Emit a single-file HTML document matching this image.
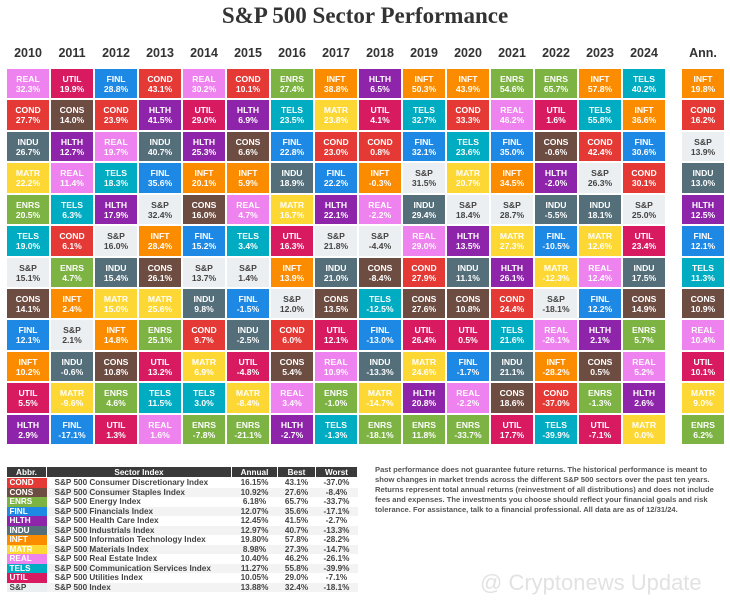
<!DOCTYPE html>
<html><head><meta charset="utf-8">
<style>
html,body{margin:0;padding:0;background:#fff;}
body{width:730px;height:608px;position:relative;overflow:hidden;font-family:"Liberation Sans",sans-serif;}
#title{position:absolute;left:0;width:730px;top:3px;text-align:center;font-family:"Liberation Serif",serif;font-weight:bold;font-size:23px;color:#333;}
.yr{position:absolute;top:46px;width:44px;text-align:center;font-weight:bold;font-size:12.5px;color:#333;}
.cell{position:absolute;box-sizing:border-box;border:0.5px solid #fff;color:#fff;font-weight:bold;font-size:8.6px;text-align:center;line-height:10px;padding-top:5px;}
.cell.sp{color:#444;}
table{position:absolute;left:6px;top:466px;border-collapse:collapse;font-size:8.2px;font-weight:bold;color:#444;}
th{background:#3a3a3a;color:#fff;height:10px;padding:0;border:1px solid #fff;font-size:8.2px;}
td{height:9.5px;padding:0;line-height:9.5px;}
tr:nth-child(even) td{background:#f3f3f3;}
#note{position:absolute;left:375px;top:465px;white-space:nowrap;font-size:7.6px;line-height:10px;color:#555;font-weight:bold;}
#wm{position:absolute;left:480px;top:570px;font-size:22px;color:#e2e2e2;}
</style></head><body>
<div id="title">S&amp;P 500 Sector Performance</div>
<div id="grid"></div>
<table>
<thead><tr><th style="width:39px">Abbr.</th><th style="width:184px">Sector Index</th><th style="width:45px">Annual</th><th style="width:37px">Best</th><th style="width:41px">Worst</th></tr></thead>
<tbody id="tb"></tbody></table>
<div id="note">Past performance does not guarantee future returns. The historical performance is meant to<br>show changes in market trends across the different S&amp;P 500 sectors over the past ten years.<br>Returns represent total annual returns (reinvestment of all distributions) and does not include<br>fees and expenses. The investments you choose should reflect your financial goals and risk<br>tolerance. For assistance, talk to a financial professional. All data are as of 12/31/24.</div>
<div id="wm">@ Cryptonews Update</div>
<script>
const years=["2010","2011","2012","2013","2014","2015","2016","2017","2018","2019","2020","2021","2022","2023","2024","Ann."];
const sec2010=["REAL","COND","INDU","MATR","ENRS","TELS","S&P","CONS","FINL","INFT","UTIL","HLTH"];
const val2010=[32.3,27.7,26.7,22.2,20.5,19.0,15.1,14.1,12.1,10.2,5.5,2.9];
const sec2011=["UTIL","CONS","HLTH","REAL","TELS","COND","ENRS","INFT","S&P","INDU","MATR","FINL"];
const val2011=[19.9,14.0,12.7,11.4,6.3,6.1,4.7,2.4,2.1,-0.6,-9.6,-17.1];
const sec2012=["FINL","COND","REAL","TELS","HLTH","S&P","INDU","MATR","INFT","CONS","ENRS","UTIL"];
const val2012=[28.8,23.9,19.7,18.3,17.9,16.0,15.4,15.0,14.8,10.8,4.6,1.3];
const sec2013=["COND","HLTH","INDU","FINL","S&P","INFT","CONS","MATR","ENRS","UTIL","TELS","REAL"];
const val2013=[43.1,41.5,40.7,35.6,32.4,28.4,26.1,25.6,25.1,13.2,11.5,1.6];
const sec2014=["REAL","UTIL","HLTH","INFT","CONS","FINL","S&P","INDU","COND","MATR","TELS","ENRS"];
const val2014=[30.2,29.0,25.3,20.1,16.0,15.2,13.7,9.8,9.7,6.9,3.0,-7.8];
const sec2015=["COND","HLTH","CONS","INFT","REAL","TELS","S&P","FINL","INDU","UTIL","MATR","ENRS"];
const val2015=[10.1,6.9,6.6,5.9,4.7,3.4,1.4,-1.5,-2.5,-4.8,-8.4,-21.1];
const sec2016=["ENRS","TELS","FINL","INDU","MATR","UTIL","INFT","S&P","COND","CONS","REAL","HLTH"];
const val2016=[27.4,23.5,22.8,18.9,16.7,16.3,13.9,12.0,6.0,5.4,3.4,-2.7];
const sec2017=["INFT","MATR","COND","FINL","HLTH","S&P","INDU","CONS","UTIL","REAL","ENRS","TELS"];
const val2017=[38.8,23.8,23.0,22.2,22.1,21.8,21.0,13.5,12.1,10.9,-1.0,-1.3];
const sec2018=["HLTH","UTIL","COND","INFT","REAL","S&P","CONS","TELS","FINL","INDU","MATR","ENRS"];
const val2018=[6.5,4.1,0.8,-0.3,-2.2,-4.4,-8.4,-12.5,-13.0,-13.3,-14.7,-18.1];
const sec2019=["INFT","TELS","FINL","S&P","INDU","REAL","COND","CONS","UTIL","MATR","HLTH","ENRS"];
const val2019=[50.3,32.7,32.1,31.5,29.4,29.0,27.9,27.6,26.4,24.6,20.8,11.8];
const sec2020=["INFT","COND","TELS","MATR","S&P","HLTH","INDU","CONS","UTIL","FINL","REAL","ENRS"];
const val2020=[43.9,33.3,23.6,20.7,18.4,13.5,11.1,10.8,0.5,-1.7,-2.2,-33.7];
const sec2021=["ENRS","REAL","FINL","INFT","S&P","MATR","HLTH","COND","TELS","INDU","CONS","UTIL"];
const val2021=[54.6,46.2,35.0,34.5,28.7,27.3,26.1,24.4,21.6,21.1,18.6,17.7];
const sec2022=["ENRS","UTIL","CONS","HLTH","INDU","FINL","MATR","S&P","REAL","INFT","COND","TELS"];
const val2022=[65.7,1.6,-0.6,-2.0,-5.5,-10.5,-12.3,-18.1,-26.1,-28.2,-37.0,-39.9];
const sec2023=["INFT","TELS","COND","S&P","INDU","MATR","REAL","FINL","HLTH","CONS","ENRS","UTIL"];
const val2023=[57.8,55.8,42.4,26.3,18.1,12.6,12.4,12.2,2.1,0.5,-1.3,-7.1];
const sec2024=["TELS","INFT","FINL","COND","S&P","UTIL","INDU","CONS","ENRS","REAL","HLTH","MATR"];
const val2024=[40.2,36.6,30.6,30.1,25.0,23.4,17.5,14.9,5.7,5.2,2.6,0.0];
const secAnn=["INFT","COND","S&P","INDU","HLTH","FINL","TELS","CONS","REAL","UTIL","MATR","ENRS"];
const valAnn=[19.8,16.2,13.9,13.0,12.5,12.1,11.3,10.9,10.4,10.1,9.0,6.2];
const allSec=[sec2010,sec2011,sec2012,sec2013,sec2014,sec2015,sec2016,sec2017,sec2018,sec2019,sec2020,sec2021,sec2022,sec2023,sec2024,secAnn];
const allVal=[val2010,val2011,val2012,val2013,val2014,val2015,val2016,val2017,val2018,val2019,val2020,val2021,val2022,val2023,val2024,valAnn];
const tblAbbr=["COND","CONS","ENRS","FINL","HLTH","INDU","INFT","MATR","REAL","TELS","UTIL","S&P"];
const tblName=["S&P 500 Consumer Discretionary Index","S&P 500 Consumer Staples Index","S&P 500 Energy Index","S&P 500 Financials Index","S&P 500 Health Care Index","S&P 500 Industrials Index","S&P 500 Information Technology Index","S&P 500 Materials Index","S&P 500 Real Estate Index","S&P 500 Communication Services Index","S&P 500 Utilities Index","S&P 500 Index"];
const tblAnnual=["16.15%","10.92%","6.18%","12.07%","12.45%","12.97%","19.80%","8.98%","10.40%","11.27%","10.05%","13.88%"];
const tblBest=["43.1%","27.6%","65.7%","35.6%","41.5%","40.7%","57.8%","27.3%","46.2%","55.8%","29.0%","32.4%"];
const tblWorst=["-37.0%","-8.4%","-33.7%","-17.1%","-2.7%","-13.3%","-28.2%","-14.7%","-26.1%","-39.9%","-7.1%","-18.1%"];

const colors={COND:"#e53935",CONS:"#6d4c41",ENRS:"#7cb342",FINL:"#1e88e5",HLTH:"#8e24aa",INDU:"#546e7a",INFT:"#fb8c00",MATR:"#fdd835",REAL:"#ee82ee",TELS:"#00acc1",UTIL:"#d81b60","S&P":"#eceff1"};
function colX(i){return i<15?6+i*44:681;}
function rowY(r){return 68+r*31.42;}
const grid=document.getElementById('grid');
years.forEach((y,i)=>{
  const h=document.createElement('div');h.className='yr';h.style.left=colX(i)+'px';h.textContent=y;
  
  
  grid.appendChild(h);
  const idx=allVal[i].map((v,k)=>k).sort((a,b)=>allVal[i][b]-allVal[i][a]);
  idx.forEach((k,r)=>{
    const s=allSec[i][k],v=allVal[i][k];
    const c=document.createElement('div');c.className='cell'+(s==='S&P'?' sp':'');
    c.style.left=colX(i)+'px';c.style.top=rowY(r)+'px';c.style.width='44px';c.style.height='31.42px';
    c.style.background=colors[s];
    c.innerHTML=s.replace('&','&amp;')+'<br>'+v.toFixed(1)+'%';
    
    
    grid.appendChild(c);
  });
});
const tb=document.getElementById('tb');
tblAbbr.forEach((a,i)=>{
  const tr=document.createElement('tr');
  
  
  const fg=a==='S&P'?'#444':'#fff';
  tr.innerHTML='<td style="background:'+colors[a]+';color:'+fg+';padding-left:3px">'+a.replace('&','&amp;')+'</td><td style="padding-left:8px">'+tblName[i].replace('&','&amp;')+'</td><td style="text-align:center">'+tblAnnual[i]+'</td><td style="text-align:center">'+tblBest[i]+'</td><td style="text-align:center">'+tblWorst[i]+'</td>';
  tb.appendChild(tr);
});
</script>
</body></html>
